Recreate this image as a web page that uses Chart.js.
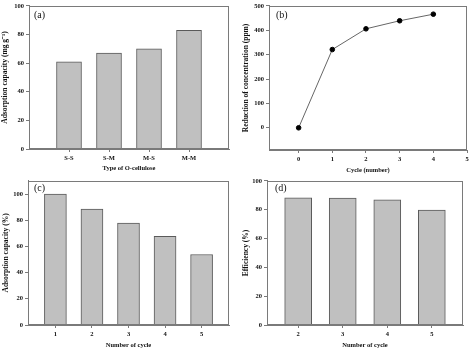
<!DOCTYPE html>
<html>
<head>
<meta charset="utf-8">
<script src="https://cdn.jsdelivr.net/npm/chart.js@4.4.1/dist/chart.umd.min.js"></script>
<style>
  body { margin: 0; background: #fff; }
  #wrap { position: relative; width: 474px; height: 351px; }
  canvas { position: absolute; }
</style>
</head>
<body>
<div id="wrap">
  <canvas id="chartA" width="237" height="175" style="left:0;top:0"></canvas>
  <canvas id="chartB" width="237" height="175" style="left:237px;top:0"></canvas>
  <canvas id="chartC" width="237" height="176" style="left:0;top:175px"></canvas>
  <canvas id="chartD" width="237" height="176" style="left:237px;top:175px"></canvas>
</div>
<script>
// (a) adsorption capacity by O-cellulose type
const cellTypes = ['S-S', 'S-M', 'M-S', 'M-M'];
const capacityByType = [61, 67, 70, 83];
const yTicksA = [0, 20, 40, 60, 80, 100];

// (b) reduction of concentration per cycle
const cyclesB = [0, 1, 2, 3, 4];
const reduction = [0, 321, 406, 439, 466];
const xTicksB = [0, 1, 2, 3, 4, 5];
const yTicksB = [0, 100, 200, 300, 400, 500];

// (c) adsorption capacity (%) per cycle
const cyclesC = [1, 2, 3, 4, 5];
const capacityPct = [100, 88.4, 77.8, 67.7, 53.8];
const yTicksC = [0, 20, 40, 60, 80, 100];

// (d) efficiency per cycle
const cyclesD = [2, 3, 4, 5];
const efficiency = [88.3, 88, 86.9, 79.8];
const yTicksD = [0, 20, 40, 60, 80, 100];

const serif = '"Liberation Serif", "Times New Roman", serif';
const axisGray = '#7a7a7a';
const barFill = '#c0c0c0';
const barEdge = '#5a5a5a';

// box round the plot area + panel letter
const frame = {
  id: 'frame',
  afterDraw(chart, args, opts) {
    const { ctx, chartArea: a } = chart;
    ctx.save();
    ctx.strokeStyle = axisGray;
    ctx.lineWidth = 1;
    const l = Math.round(a.left) + 0.5, t = Math.round(a.top) + 0.5;
    const r = Math.round(a.right) - 0.5, b = Math.round(a.bottom) - 0.5;
    ctx.strokeRect(l, t, r - l, b - t);
    ctx.fillStyle = '#111';
    ctx.font = '10px ' + serif;
    ctx.textBaseline = 'middle';
    ctx.fillText(opts.text, a.left + opts.dx, a.top + opts.dy);
    ctx.restore();
  }
};

function xAxis(min, max, ticks, height, title, padBottom, label) {
  return {
    type: 'linear', min: min, max: max, offset: false,
    afterBuildTicks: s => { s.ticks = ticks.map(v => ({ value: v })); },
    afterFit: s => { s.height = height; },
    grid: { drawOnChartArea: false, drawTicks: true, tickLength: 3, color: axisGray, offset: false },
    border: { display: true, color: axisGray },
    ticks: {
      font: { family: serif, size: 6.5, weight: 'bold' }, color: '#111', padding: 2,
      maxRotation: 0, autoSkip: false,
      callback: label || (v => v)
    },
    title: {
      display: true, text: title, color: '#111',
      font: { family: serif, size: 6.5, weight: 'bold' },
      padding: { top: 0, bottom: padBottom }
    }
  };
}

function yAxis(min, max, ticks, width, title, padTop) {
  return {
    min: min, max: max,
    afterBuildTicks: s => { s.ticks = ticks.map(v => ({ value: v })); },
    afterFit: s => { s.width = width; },
    grid: { drawOnChartArea: false, drawTicks: true, tickLength: 3, color: axisGray },
    border: { display: true, color: axisGray },
    ticks: { font: { family: serif, size: 6.5, weight: 'bold' }, color: '#111', padding: 2 },
    title: {
      display: true, text: title, color: '#111',
      font: { family: serif, size: 7.5, weight: 'bold' },
      padding: { top: padTop, bottom: 0 }
    }
  };
}

function baseOptions(pad, scales, letter, dx, dy) {
  return {
    responsive: false,
    animation: false,
    layout: { padding: pad },
    scales: scales,
    plugins: {
      legend: { display: false },
      tooltip: { enabled: false },
      frame: { text: letter, dx: dx, dy: dy }
    }
  };
}

function barData(xs, ys, thickness) {
  return {
    datasets: [{
      data: xs.map((x, i) => ({ x: x, y: ys[i] })),
      backgroundColor: barFill,
      borderColor: barEdge,
      borderWidth: 1,
      barThickness: thickness
    }]
  };
}

// (a)
new Chart(document.getElementById('chartA'), {
  type: 'bar',
  data: barData([1, 2, 3, 4], capacityByType, 25),
  options: baseOptions({ left: 0, right: 8, top: 4, bottom: 0 }, {
    x: xAxis(0, 5, [1, 2, 3, 4], 26, 'Type of O-cellulose', 3, v => cellTypes[v - 1]),
    y: yAxis(0, 100, yTicksA, 29, 'Adsorption capacity (mg g\u207B\u00B9)', 1)
  }, '(a)', 5, 9),
  plugins: [frame]
});

// (b)
new Chart(document.getElementById('chartB'), {
  type: 'line',
  data: {
    datasets: [{
      data: cyclesB.map((x, i) => ({ x: x, y: reduction[i] })),
      borderColor: '#666',
      borderWidth: 1,
      pointRadius: 2.3,
      pointBackgroundColor: '#000',
      pointBorderColor: '#000',
      tension: 0
    }]
  },
  options: baseOptions({ left: 0, right: 7, top: 3, bottom: 0 }, {
    x: xAxis(-0.88, 5, xTicksB, 25, 'Cycle (number)', 0.5),
    y: yAxis(-91, 500, yTicksB, 32, 'Reduction of concentration (ppm)', 5)
  }, '(b)', 7, 9),
  plugins: [frame]
});

// (c)
new Chart(document.getElementById('chartC'), {
  type: 'bar',
  data: barData(cyclesC, capacityPct, 22),
  options: baseOptions({ left: 0, right: 8, top: 4, bottom: 0 }, {
    x: xAxis(0.25, 5.75, cyclesC, 26, 'Number of cycle', 2),
    y: yAxis(0, 110, yTicksC, 28, 'Adsorption capacity (%)', 1.5)
  }, '(c)', 6, 7),
  plugins: [frame]
});

// (d)
new Chart(document.getElementById('chartD'), {
  type: 'bar',
  data: barData(cyclesD, efficiency, 27),
  options: baseOptions({ left: 0, right: 11, top: 5, bottom: 0 }, {
    x: xAxis(1.3, 5.7, cyclesD, 26, 'Number of cycle', 1.5),
    y: yAxis(0, 100, yTicksD, 30, 'Efficiency (%)', 4.5)
  }, '(d)', 8, 7),
  plugins: [frame]
});
</script>
</body>
</html>
